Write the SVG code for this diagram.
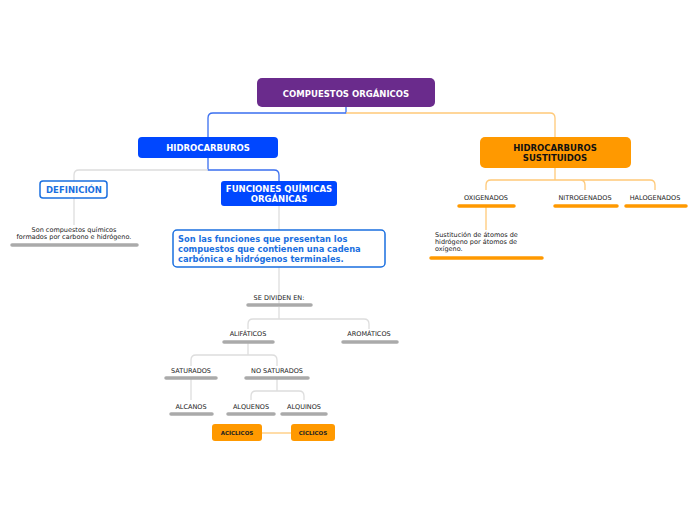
<svg xmlns="http://www.w3.org/2000/svg" width="696" height="520" viewBox="0 0 696 520">
<style>
text{font-family:"DejaVu Sans","Verdana",sans-serif}
.w{fill:#fff;font-weight:bold;font-size:8.5px;text-anchor:middle}
.s{fill:#222;font-size:6.5px;text-anchor:middle}
.bar{stroke:#aaa;stroke-width:3.5;stroke-linecap:round}
.ob{stroke:#ff9900;stroke-width:3.5;stroke-linecap:round}
.g{fill:none;stroke:#ddd;stroke-width:1.3}
.b{fill:none;stroke:#3a6ff0;stroke-width:1.3}
.o{fill:none;stroke:#ffc978;stroke-width:1.3}
</style>
<rect width="696" height="520" fill="#fff"/>
<g id="connectors">
<path class="b" d="M346,107V113H213Q208,113 208,118V137"/>
<path class="o" d="M346,113H550Q555,113 555,118V137"/>
<path class="b" d="M208,158V170H274Q279,170 279,175V181"/>
<path class="g" d="M208,170H79Q74,170 74,175V181"/>
<path class="g" d="M74,198V225"/>
<path class="g" d="M279,206V230"/>
<path class="g" d="M279,267V305M279,307V319M253,319H364Q369,319 369,324V329M279,319H253Q248,319 248,324V329"/>
<path class="g" d="M248,342V355M196,355H272Q277,355 277,360V366M248,355H196Q191,355 191,360V366"/>
<path class="g" d="M191,378V400"/>
<path class="g" d="M277,378V391M256,391H299Q304,391 304,396V400M277,391H256Q251,391 251,396V400"/>
<path class="o" d="M262,433H291"/>
<path class="o" d="M555,168V180M491,180H650Q655,180 655,185V190M555,180H491Q486,180 486,185V190M555,180H580Q585,180 585,185V190"/>
<path class="o" d="M486,206V230"/>
</g>
<g id="title"><rect x="257" y="78" width="178" height="29" rx="5" fill="#6a2b8c"/><text class="w" x="346" y="97" font-size="10.5">COMPUESTOS ORGÁNICOS</text></g>
<g id="hidro"><rect x="138" y="137" width="140" height="21" rx="4" fill="#0047ff"/><text class="w" x="208" y="151">HIDROCARBUROS</text></g>
<g id="def"><rect x="40" y="181" width="67" height="17" rx="3" fill="#fff" stroke="#1a6fe0" stroke-width="1.5"/><text class="w" x="74" y="193" fill="#1a6fe0" style="fill:#1a6fe0">DEFINICIÓN</text></g>
<g id="defText"><text class="s" x="74" y="232">Son compuestos químicos</text><text class="s" x="74" y="239">formados por carbono e hidrógeno.</text><line class="bar" x1="12" y1="245" x2="137" y2="245"/></g>
<g id="func"><rect x="221" y="181" width="116" height="25" rx="3" fill="#0047ff"/><text class="w" x="279" y="192">FUNCIONES QUÍMICAS</text><text class="w" x="279" y="202">ORGÁNICAS</text></g>
<g id="funcText"><rect x="173" y="230" width="212" height="37" rx="4" fill="#fff" stroke="#1a6fe0" stroke-width="1.5"/>
<text x="178" y="242" font-size="8.3" font-weight="bold" fill="#1a6fe0">Son las funciones que presentan los</text>
<text x="178" y="252" font-size="8.3" font-weight="bold" fill="#1a6fe0">compuestos que contienen una cadena</text>
<text x="178" y="262" font-size="8.3" font-weight="bold" fill="#1a6fe0">carbónica e hidrógenos terminales.</text></g>
<g id="se"><text class="s" x="279" y="300">SE DIVIDEN EN:</text><line class="bar" x1="248" y1="305" x2="311" y2="305"/></g>
<g id="ali"><text class="s" x="248" y="336">ALIFÁTICOS</text><line class="bar" x1="224" y1="342" x2="273" y2="342"/></g>
<g id="aro"><text class="s" x="369" y="336">AROMÁTICOS</text><line class="bar" x1="343" y1="342" x2="397" y2="342"/></g>
<g id="sat"><text class="s" x="191" y="373">SATURADOS</text><line class="bar" x1="166" y1="378" x2="216" y2="378"/></g>
<g id="nosat"><text class="s" x="277" y="373">NO SATURADOS</text><line class="bar" x1="246" y1="378" x2="308" y2="378"/></g>
<g id="alcanos"><text class="s" x="191" y="409">ALCANOS</text><line class="bar" x1="171" y1="414" x2="212" y2="414"/></g>
<g id="alquenos"><text class="s" x="251" y="409">ALQUENOS</text><line class="bar" x1="228" y1="414" x2="274" y2="414"/></g>
<g id="alquinos"><text class="s" x="304" y="409">ALQUINOS</text><line class="bar" x1="282" y1="414" x2="326" y2="414"/></g>
<g id="aciclicos"><rect x="212" y="424" width="50" height="17" rx="3" fill="#ff9900"/><text x="237" y="435" font-size="5.5" font-weight="bold" text-anchor="middle" fill="#222">ACÍCLICOS</text></g>
<g id="ciclicos"><rect x="291" y="424" width="44" height="17" rx="3" fill="#ff9900"/><text x="313" y="435" font-size="5.5" font-weight="bold" text-anchor="middle" fill="#222">CÍCLICOS</text></g>
<g id="sust"><rect x="480" y="137" width="151" height="31" rx="5" fill="#ff9900"/><text class="w" x="555" y="151" style="fill:#111">HIDROCARBUROS</text><text class="w" x="555" y="161" style="fill:#111">SUSTITUIDOS</text></g>
<g id="oxi"><text class="s" x="486" y="200">OXIGENADOS</text><line class="ob" x1="459" y1="206" x2="514" y2="206"/></g>
<g id="nitro"><text class="s" x="585" y="200">NITROGENADOS</text><line class="ob" x1="555" y1="206" x2="617" y2="206"/></g>
<g id="halo"><text class="s" x="655" y="200">HALOGENADOS</text><line class="ob" x1="626" y1="206" x2="686" y2="206"/></g>
<g id="oxiText"><text x="435" y="237" font-size="6.5" fill="#222">Sustitución de átomos de</text><text x="435" y="244" font-size="6.5" fill="#222">hidrógeno  por átomos de</text><text x="435" y="251" font-size="6.5" fill="#222">oxígeno.</text><line class="ob" x1="431" y1="258" x2="542" y2="258"/></g>
</svg>
